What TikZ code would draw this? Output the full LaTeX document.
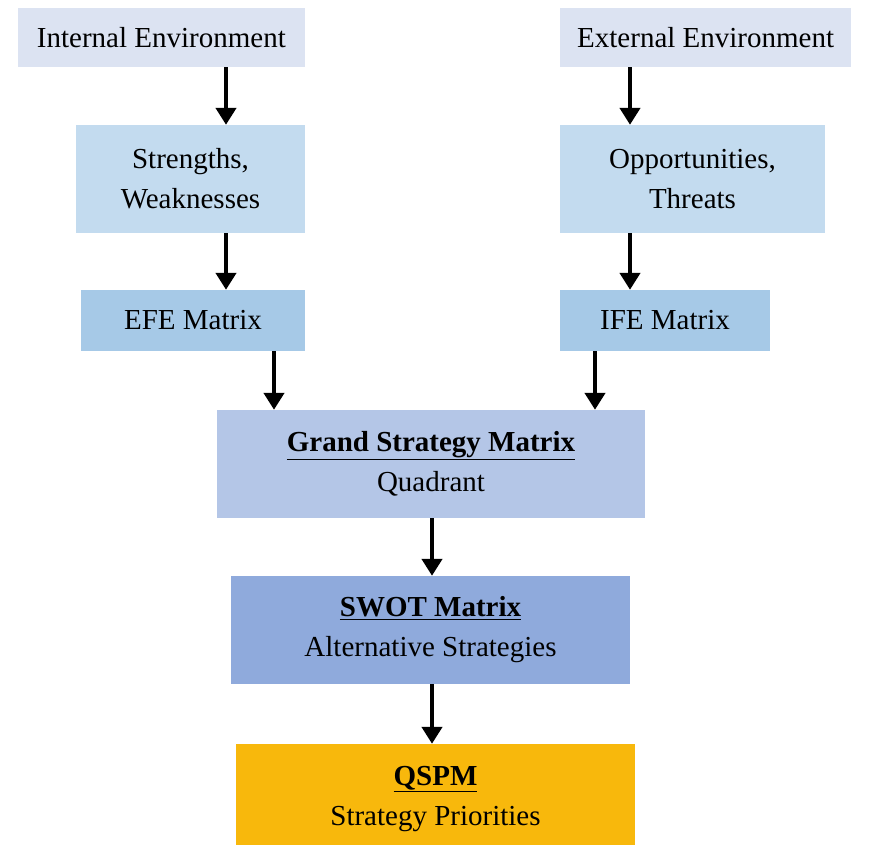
\documentclass[tikz,border=0pt]{standalone}
\usepackage{fontspec}
\setmainfont{Liberation Serif}
\usetikzlibrary{arrows.meta}
\definecolor{cTop}{HTML}{DCE3F2}
\definecolor{cSW}{HTML}{C3DBEF}
\definecolor{cEFE}{HTML}{A6C9E7}
\definecolor{cGrand}{HTML}{B4C6E7}
\definecolor{cSwot}{HTML}{8FAADC}
\definecolor{cQ}{HTML}{F8B80C}
\tikzset{
  box/.style={inner sep=0pt, align=center, font=\fontsize{29}{40}\selectfont, text=black},
  arr/.style={line width=4.5pt, -{Triangle[width=20pt,length=17pt]}}
}
\begin{document}
\begin{tikzpicture}[x=1pt,y=-1pt]
\useasboundingbox (0,0) rectangle (878,845);
\node[box, fill=cTop, anchor=east, inner xsep=19pt, minimum height=59pt] (ie) at (305,37.5) {Internal Environment};
\node[box, fill=cTop, anchor=west, inner xsep=17pt, minimum height=59pt] (ee) at (560,37.5) {External Environment};
\node[box, fill=cSW, minimum width=229pt, minimum height=108pt] (sw) at (190.5,179) {Strengths,\\Weaknesses};
\node[box, fill=cSW, minimum width=265pt, minimum height=108pt] (ot) at (692.5,179) {Opportunities,\\Threats};
\node[box, fill=cEFE, minimum width=224pt, minimum height=61pt] (efe) at (193,320.5) {EFE Matrix};
\node[box, fill=cEFE, minimum width=210pt, minimum height=61pt] (ife) at (665,320.5) {IFE Matrix};
\node[box, fill=cGrand, minimum width=428pt, minimum height=108pt] (gs) at (431,464) {\underline{\textbf{Grand Strategy Matrix}}\\Quadrant};
\node[box, fill=cSwot, minimum width=399pt, minimum height=108pt] (sm) at (430.5,630) {\underline{\textbf{SWOT Matrix}}\\Alternative Strategies};
\node[box, fill=cQ, minimum width=399pt, minimum height=110pt] (qs) at (435.5,799) {\underline{\textbf{QSPM}}\\Strategy Priorities};
\coordinate (xa) at (226,0);
\coordinate (xb) at (630,0);
\coordinate (xc) at (274,0);
\coordinate (xd) at (595,0);
\coordinate (xe) at (432,0);
\draw[arr] (ie.south -| xa) -- (sw.north -| xa);
\draw[arr] (ee.south -| xb) -- (ot.north -| xb);
\draw[arr] (sw.south -| xa) -- (efe.north -| xa);
\draw[arr] (ot.south -| xb) -- (ife.north -| xb);
\draw[arr] (efe.south -| xc) -- (gs.north -| xc);
\draw[arr] (ife.south -| xd) -- (gs.north -| xd);
\draw[arr] (gs.south -| xe) -- (sm.north -| xe);
\draw[arr] (sm.south -| xe) -- (qs.north -| xe);
\end{tikzpicture}
\end{document}
